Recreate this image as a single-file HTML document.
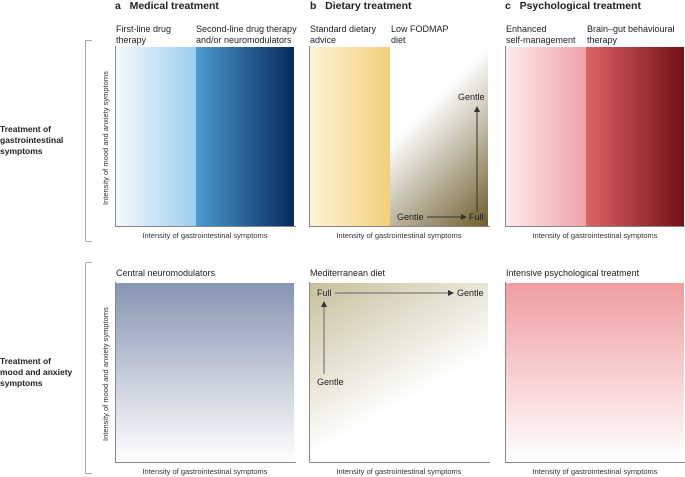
<!DOCTYPE html>
<html><head><meta charset="utf-8"><style>
body{margin:0;background:#fff;font-family:"Liberation Sans",sans-serif;color:#222;}
#root{position:relative;width:685px;height:477px;overflow:hidden;}
.t{position:absolute;font-size:9px;line-height:10.5px;white-space:nowrap;}
.h{position:absolute;font-size:10.5px;font-weight:bold;}
.p{position:absolute;}
.ax{position:absolute;border-left:1px solid #888;border-bottom:1px solid #888;}
.xl{position:absolute;font-size:7.5px;width:178px;text-align:center;color:#333;}
.yl{position:absolute;font-size:7.5px;color:#333;transform:rotate(-90deg);transform-origin:left top;white-space:nowrap;}
.row{position:absolute;font-size:8.5px;font-weight:bold;line-height:11px;}
.br{position:absolute;border:1px solid #aaa;border-right:none;width:6px;}
</style></head><body><div id="root">
<div class="h" style="left:115px;top:0px">a&nbsp;&nbsp; Medical treatment</div>
<div class="h" style="left:310px;top:0px">b&nbsp;&nbsp; Dietary treatment</div>
<div class="h" style="left:505px;top:0px">c&nbsp;&nbsp; Psychological treatment</div>

<div class="t" style="left:116px;top:24px">First-line drug<br>therapy</div>
<div class="t" style="left:196px;top:24px">Second-line drug therapy<br>and/or neuromodulators</div>
<div class="t" style="left:310px;top:24px">Standard dietary<br>advice</div>
<div class="t" style="left:391px;top:24px">Low FODMAP<br>diet</div>
<div class="t" style="left:506px;top:24px">Enhanced<br>self-management</div>
<div class="t" style="left:587px;top:24px">Brain–gut behavioural<br>therapy</div>

<div class="row" style="left:0;top:124px">Treatment of<br>gastrointestinal<br>symptoms</div>
<div class="row" style="left:0;top:356px">Treatment of<br>mood and anxiety<br>symptoms</div>
<div class="br" style="left:85px;top:40px;height:200px"></div>
<div class="br" style="left:85px;top:262px;height:210px"></div>

<!-- top row -->
<div class="p" style="left:116px;top:47px;width:80px;height:179px;background:linear-gradient(90deg,#f4f9fe,#9ccdee)"></div>
<div class="p" style="left:196px;top:47px;width:98px;height:179px;background:linear-gradient(90deg,#4d9ad0,#062a5c)"></div>
<div class="p" style="left:310px;top:47px;width:80px;height:179px;background:linear-gradient(90deg,#fdf3d6,#f3cf7c)"></div>
<div class="p" style="left:390px;top:47px;width:98px;height:179px;background:linear-gradient(135deg,#fff 35%,#6e5d2c 100%)"></div>
<div class="p" style="left:506px;top:47px;width:80px;height:179px;background:linear-gradient(90deg,#fdeaec,#f0a2a6)"></div>
<div class="p" style="left:586px;top:47px;width:98px;height:179px;background:linear-gradient(90deg,#dc6466,#741014)"></div>

<!-- bottom row -->
<div class="t" style="left:116px;top:268px">Central neuromodulators</div>
<div class="t" style="left:310px;top:268px">Mediterranean diet</div>
<div class="t" style="left:506px;top:268px">Intensive psychological treatment</div>
<div class="p" style="left:116px;top:283px;width:178px;height:179px;background:linear-gradient(180deg,#8795b2,#fff)"></div>
<div class="p" style="left:310px;top:283px;width:178px;height:179px;background:linear-gradient(150deg,#c6c09c 0%,#fff 62%)"></div>
<div class="p" style="left:506px;top:283px;width:178px;height:179px;background:linear-gradient(180deg,#ef9da1,#fff)"></div>

<!-- axes -->
<div class="ax" style="left:115px;top:46px;width:180px;height:180px"></div>
<div class="ax" style="left:309px;top:46px;width:180px;height:180px"></div>
<div class="ax" style="left:505px;top:46px;width:180px;height:180px"></div>
<div class="ax" style="left:115px;top:282px;width:180px;height:180px"></div>
<div class="ax" style="left:309px;top:282px;width:180px;height:180px"></div>
<div class="ax" style="left:505px;top:282px;width:180px;height:180px"></div>

<div class="xl" style="left:116px;top:231px">Intensity of gastrointestinal symptoms</div>
<div class="xl" style="left:310px;top:231px">Intensity of gastrointestinal symptoms</div>
<div class="xl" style="left:506px;top:231px">Intensity of gastrointestinal symptoms</div>
<div class="xl" style="left:116px;top:467px">Intensity of gastrointestinal symptoms</div>
<div class="xl" style="left:310px;top:467px">Intensity of gastrointestinal symptoms</div>
<div class="xl" style="left:506px;top:467px">Intensity of gastrointestinal symptoms</div>
<div class="yl" style="left:101px;top:205px">Intensity of mood and anxiety symptoms</div>
<div class="yl" style="left:101px;top:441px">Intensity of mood and anxiety symptoms</div>

<svg class="p" style="left:0;top:0" width="685" height="477">
<defs><marker id="ah" markerWidth="6" markerHeight="6" refX="5" refY="3" orient="auto"><path d="M0,0L6,3L0,6z" fill="#333"/></marker></defs>
<line x1="477" y1="212" x2="477" y2="107" stroke="#333" stroke-width="1" marker-end="url(#ah)"/>
<line x1="427" y1="217" x2="466" y2="217" stroke="#333" stroke-width="1" marker-end="url(#ah)"/>
<line x1="335" y1="293" x2="453" y2="293" stroke="#666" stroke-width="1" marker-end="url(#ah)"/>
<line x1="324" y1="374" x2="324" y2="302" stroke="#666" stroke-width="1" marker-end="url(#ah)"/>
</svg>
<div class="t" style="left:458px;top:92px">Gentle</div>
<div class="t" style="left:397px;top:212px">Gentle</div>
<div class="t" style="left:469px;top:212px">Full</div>
<div class="t" style="left:317px;top:288px">Full</div>
<div class="t" style="left:457px;top:288px">Gentle</div>
<div class="t" style="left:317px;top:377px">Gentle</div>
</div></body></html>
